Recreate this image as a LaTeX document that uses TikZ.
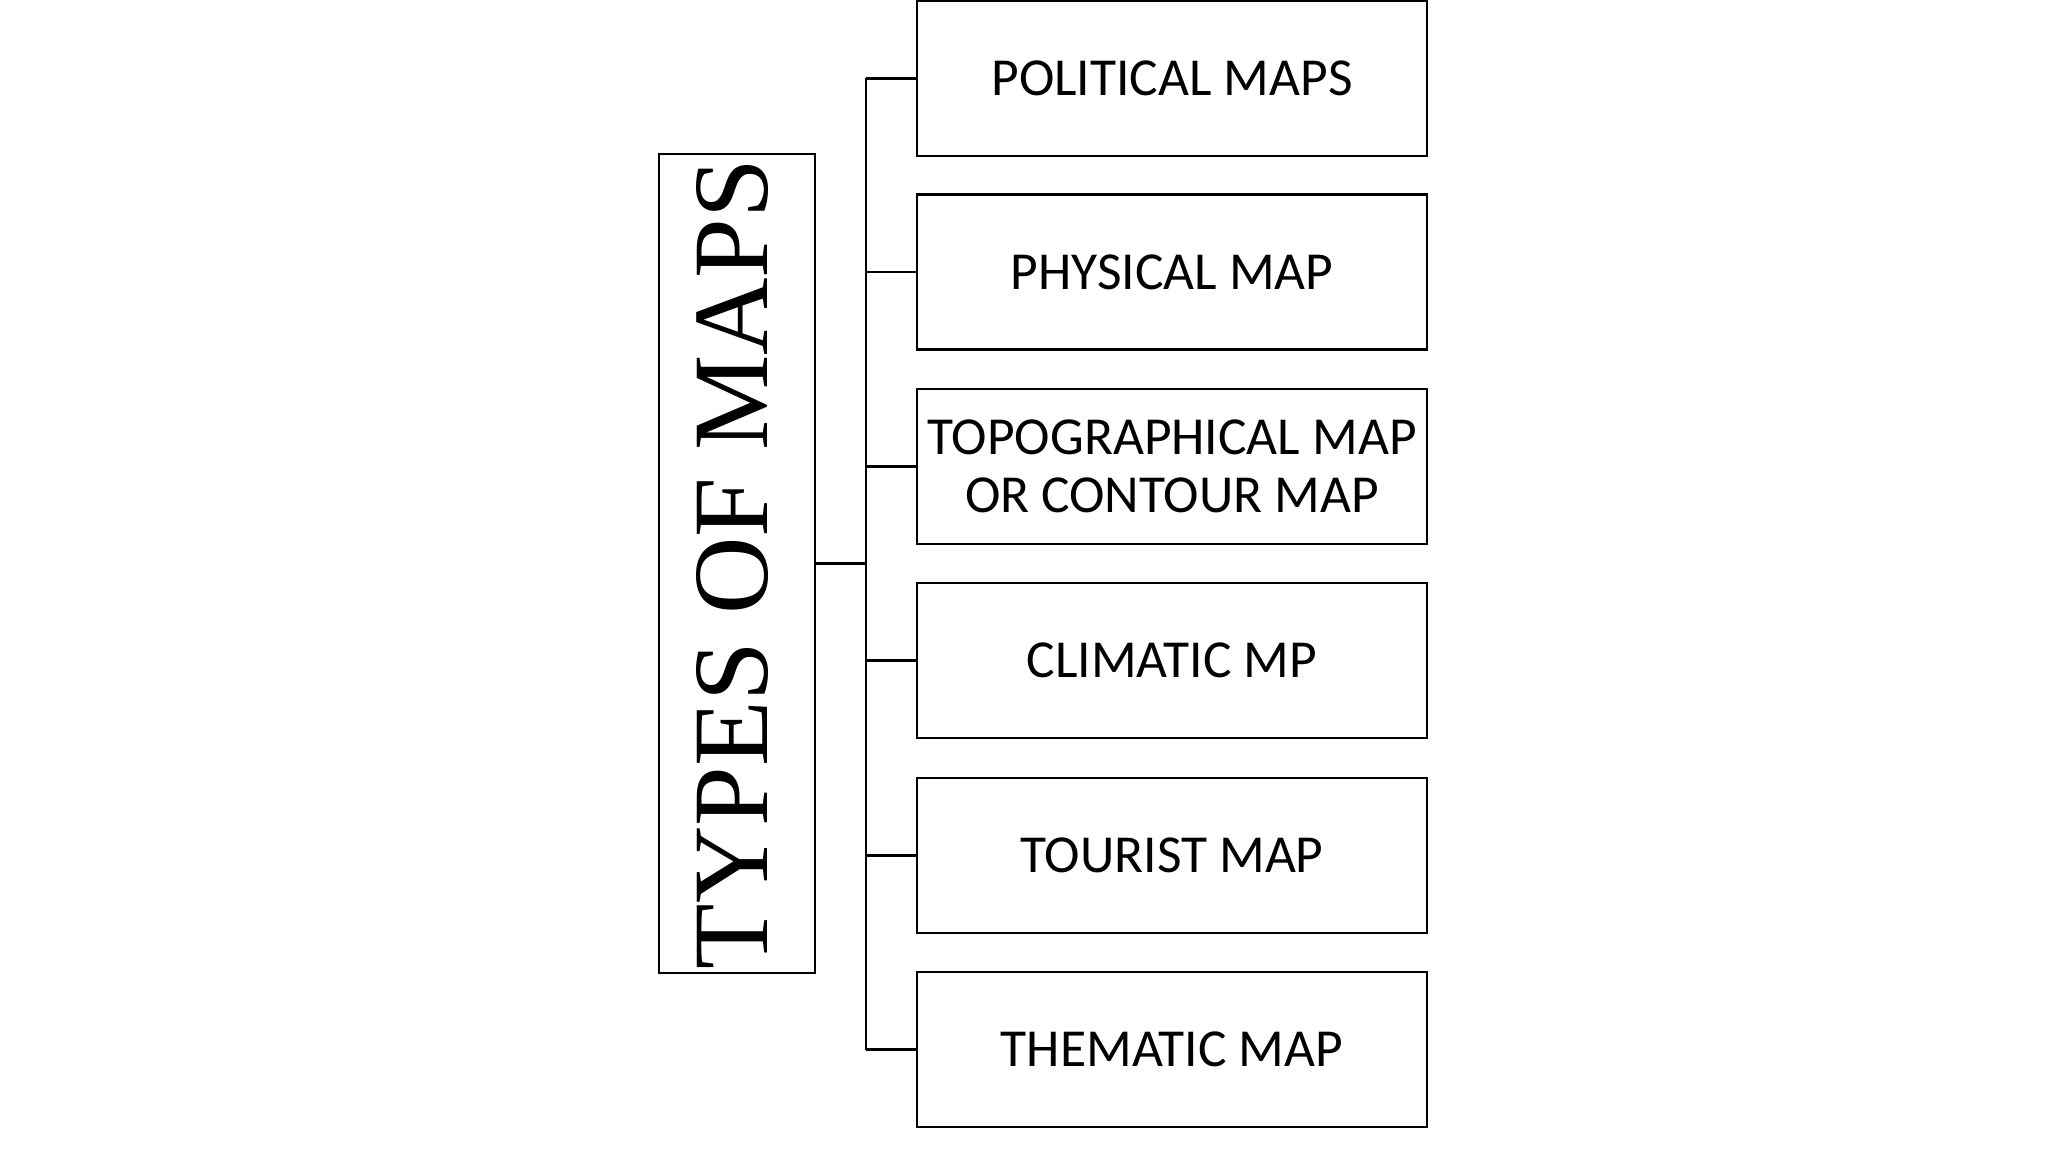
\documentclass[tikz,border=0pt]{standalone}
\usepackage{fontspec}
\setmainfont{Carlito}
\newfontfamily\titlefont{Liberation Serif}
\begin{document}
\begin{tikzpicture}[x=0.01cm,y=-0.01cm,
  mapbox/.style={draw=black,line width=0.6pt,minimum width=5.10cm,minimum height=1.55cm,inner sep=0pt,align=center,font=\fontsize{15.2}{16.4}\selectfont},
  link/.style={draw=black,line width=0.6pt}]
\useasboundingbox (0,0) rectangle (2048,1152);
\node[draw=black,line width=0.6pt,minimum width=1.56cm,minimum height=8.19cm,inner sep=0pt] (title) at (737,563.5) {};
\node[rotate=90,font=\titlefont\fontsize{30.5}{32}\selectfont,inner sep=0pt] (titletext) at (732.5,564) {TYPES OF MAPS};
\node[mapbox] (b1) at (1172,78.5) {POLITICAL MAPS};
\node[mapbox] (b2) at (1172,272) {PHYSICAL MAP};
\node[mapbox] (b3) at (1172,466.5) {TOPOGRAPHICAL MAP\\OR CONTOUR MAP};
\node[mapbox] (b4) at (1172,660.5) {CLIMATIC MP};
\node[mapbox] (b5) at (1172,855.5) {TOURIST MAP};
\node[mapbox] (b6) at (1172,1049.5) {THEMATIC MAP};
\coordinate (trunktop) at (866,78.5);
\coordinate (trunkbot) at (866,1049.5);
\coordinate (hub) at (866,563.5);
\draw[link] (trunktop) -- (trunkbot);
\draw[link] (title.east) -- (hub);
\foreach \b in {b1,b2,b3,b4,b5,b6}{
  \draw[link] (trunktop |- \b.west) -- (\b.west);
}
\end{tikzpicture}
\end{document}
